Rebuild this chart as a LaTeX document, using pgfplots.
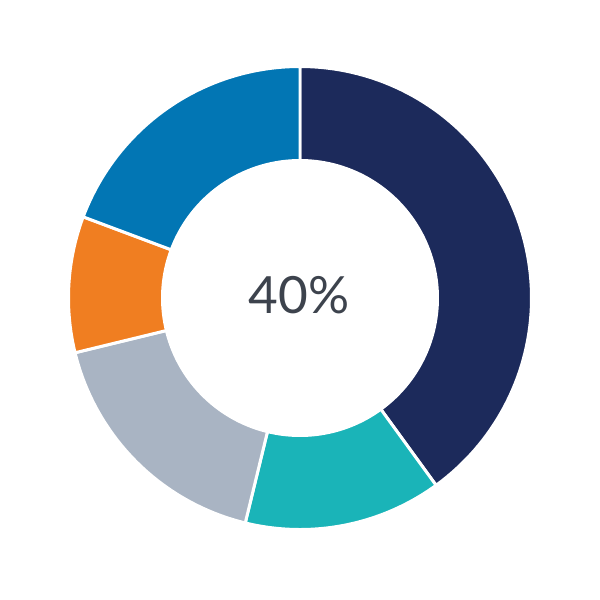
\documentclass[border=0pt]{standalone}
\usepackage{fontspec}
\setmainfont{Lato}
\usepackage{pgfplots}
\usepackage{pgfplotstable}
\pgfplotsset{compat=1.18}
\usepgfplotslibrary{fillbetween}

\definecolor{cnavy}{HTML}{1C2A5B}
\definecolor{cteal}{HTML}{1AB4B8}
\definecolor{cgray}{HTML}{A9B4C3}
\definecolor{corange}{HTML}{F07E21}
\definecolor{cblue}{HTML}{0276B4}
\definecolor{ctext}{HTML}{3D434D}

% shares in percent, clockwise from 12 o'clock
\pgfplotstableread{
share color
40.0  cnavy
13.8  cteal
17.4  cgray
9.5   corange
19.3  cblue
}\donut
\pgfplotstablecreatecol[create col/expr accum={\pgfmathaccuma + \thisrow{share}}{0}]{cum}\donut

\def\Ro{231.5}
\def\Ri{137.5}
% #1 start %, #2 end %, #3 colour, #4 id
\newcommand\seg[4]{%
  \addplot[draw=none, name path=o#4, domain={3.6*#1}:{3.6*#2}, samples=90]
    ({300+\Ro*sin(x)},{-298+\Ro*cos(x)});
  \addplot[draw=none, name path=i#4, domain={3.6*#1}:{3.6*#2}, samples=90]
    ({300+\Ri*sin(x)},{-298+\Ri*cos(x)});
  \addplot[fill=#3, draw=white, line width=3pt] fill between[of=o#4 and i#4];
}

\begin{document}
\begin{tikzpicture}
\begin{axis}[
  scale only axis, width=600bp, height=599bp,
  xmin=0, xmax=600, ymin=-599, ymax=0,
  hide axis, clip=false]
% keep the full canvas as the page
\path[draw=none] (rel axis cs:0,0) rectangle (rel axis cs:1,1);
\pgfplotstablegetrowsof{\donut}
\pgfmathtruncatemacro\lastrow{\pgfplotsretval-1}
\pgfplotsforeachungrouped \i in {0,...,\lastrow}{%
  \pgfplotstablegetelem{\i}{cum}\of\donut \pgfmathsetmacro\segB{\pgfplotsretval}%
  \pgfplotstablegetelem{\i}{share}\of\donut \pgfmathsetmacro\segA{\segB-\pgfplotsretval}%
  \pgfplotstablegetelem{\i}{color}\of\donut \let\segcol\pgfplotsretval
  \edef\cmd{\noexpand\seg{\segA}{\segB}{\segcol}{\i}}\cmd
}
\node[text=ctext, font=\fontsize{51.5}{60}\selectfont] at (axis cs:299,-295) {40\%};
\end{axis}
\end{tikzpicture}
\end{document}
